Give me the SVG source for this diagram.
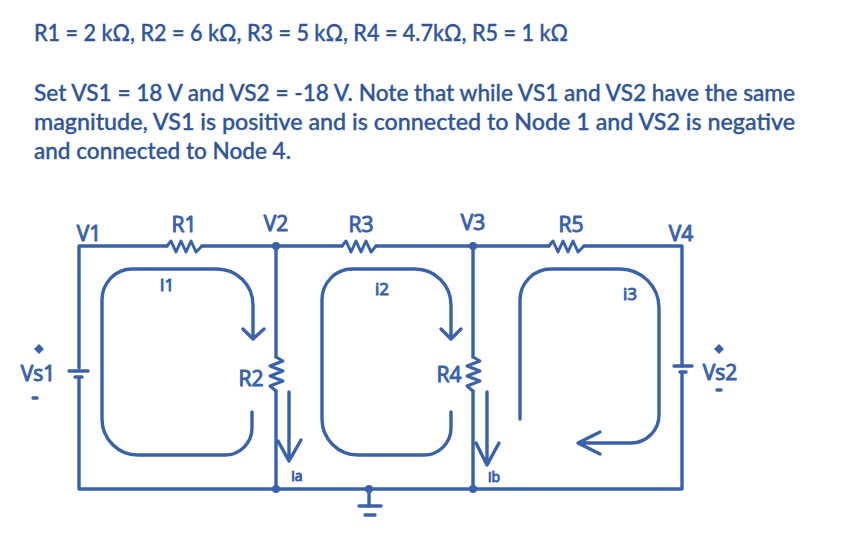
<svg xmlns="http://www.w3.org/2000/svg" width="864" height="553" viewBox="0 0 864 553">
<style>
.t{font-family:"Lato","Open Sans","Liberation Sans",sans-serif;font-size:23px;font-weight:500;fill:#2F5597;stroke:#2F5597;stroke-width:.35px}
.w{fill:none;stroke:#3A62A8;stroke-width:3.4;stroke-linecap:round;stroke-linejoin:round}
.z{fill:none;stroke:#3A62A8;stroke-width:3;stroke-linecap:round;stroke-linejoin:round}
.l{font-family:"Open Sans","Liberation Sans",sans-serif;font-size:21px;font-weight:500;fill:#3A62A8;stroke:#3A62A8;stroke-width:1px;stroke-linejoin:round;text-anchor:middle}
.c{font-size:17px}
.s{font-size:14px}
.d{fill:#3A62A8}
</style>
<rect width="864" height="553" fill="#fff"/>
<g id="description">
<text class="t" x="34" y="41" textLength="534" lengthAdjust="spacingAndGlyphs">R1 = 2 kΩ, R2 = 6 kΩ, R3 = 5 kΩ, R4 = 4.7kΩ, R5 = 1 kΩ</text>
<text class="t" x="34" y="101" textLength="761" lengthAdjust="spacingAndGlyphs">Set VS1 = 18 V and VS2 = -18 V. Note that while VS1 and VS2 have the same</text>
<text class="t" x="34" y="130" textLength="761" lengthAdjust="spacingAndGlyphs">magnitude, VS1 is positive and is connected to Node 1 and VS2 is negative</text>
<text class="t" x="34" y="159" textLength="257" lengthAdjust="spacingAndGlyphs">and connected to Node 4.</text>
</g>
<g id="connectors">
<path class="w" d="M79 368V246H167M202 246H342M376 246H549M584 246H682V366M682 374V489H79V379"/>
<path class="w" d="M276 246V357M276 391V489M473 246V357M473 391V489"/>
<path class="w" d="M369 489V506"/>
</g>
<g id="R1"><path class="z" d="M167 246L171 241L176 252L181 241L186 252L191 241L196 252L202 246"/><text class="l" x="184" y="232">R1</text></g>
<g id="R2"><path class="z" d="M276 357L283 361L270 366L283 371L270 376L283 381L270 386L276 391"/><text class="l" x="251" y="386">R2</text></g>
<g id="R3"><path class="z" d="M342 246L346 241L351 252L356 241L361 252L366 241L371 252L376 246"/><text class="l" x="361" y="232">R3</text></g>
<g id="R4"><path class="z" d="M473 357L480 361L467 366L480 371L467 376L480 381L467 386L473 391"/><text class="l" x="449" y="382">R4</text></g>
<g id="R5"><path class="z" d="M549 246L553 241L558 252L563 241L568 252L573 241L578 252L584 246"/><text class="l" x="571" y="232">R5</text></g>
<g id="V1"><text class="l" x="89" y="241">V1</text></g>
<g id="V2"><circle class="d" cx="276" cy="246" r="4"/><text class="l" x="276" y="231">V2</text></g>
<g id="V3"><circle class="d" cx="473" cy="246" r="4"/><text class="l" x="473" y="230">V3</text></g>
<g id="V4"><text class="l" x="681" y="241">V4</text></g>
<g id="Node-a"><circle class="d" cx="276" cy="489" r="4"/></g>
<g id="Node-b"><circle class="d" cx="473" cy="489" r="4"/></g>
<g id="Vs1">
<path class="w" d="M69 371H88M75 377H82"/>
<text class="l" x="38" y="381">Vs1</text>
<path class="d" d="M39 344L44 349L39 354L34 349Z"/>
<path class="w" d="M33 398H37"/>
</g>
<g id="Vs2">
<path class="w" d="M674 366H692M680 372H686"/>
<text class="l" x="720" y="380">Vs2</text>
<path class="d" d="M719 344L724 349L719 354L714 349Z"/>
<path class="w" d="M717 390H721"/>
</g>
<g id="Ground">
<circle class="d" cx="369" cy="489" r="4"/>
<path class="w" d="M359 506H381M365 515H375"/>
</g>
<g id="I1">
<path class="w" d="M253 338V305A36 36 0 0 0 217 269H132A30 31 0 0 0 102 300V419A36 36 0 0 0 138 455H225A27 27 0 0 0 252 428V412M243 329L253 339L264 329"/>
<text class="l c" x="167" y="291">I1</text>
</g>
<g id="I2">
<path class="w" d="M451 338V305A36 36 0 0 0 415 269H352A30 31 0 0 0 322 300V419A36 36 0 0 0 358 455H424A27 27 0 0 0 451 428V412M441 329L451 339L461 329"/>
<text class="l c" x="382" y="295">i2</text>
</g>
<g id="I3">
<path class="w" d="M520 419V300A31 31 0 0 1 551 269H620A39 39 0 0 1 659 308V415A28 28 0 0 1 631 443H578M600 432L578 443L600 454"/>
<text class="l c" x="630" y="300">i3</text>
</g>
<g id="Ia">
<path class="w" d="M289 392V461M278 441L289 461L301 440"/>
<text class="l s" x="297" y="481">ia</text>
</g>
<g id="Ib">
<path class="w" d="M487 392V465M476 443L487 465L499 443"/>
<text class="l s" x="494" y="482">ib</text>
</g>
</svg>
